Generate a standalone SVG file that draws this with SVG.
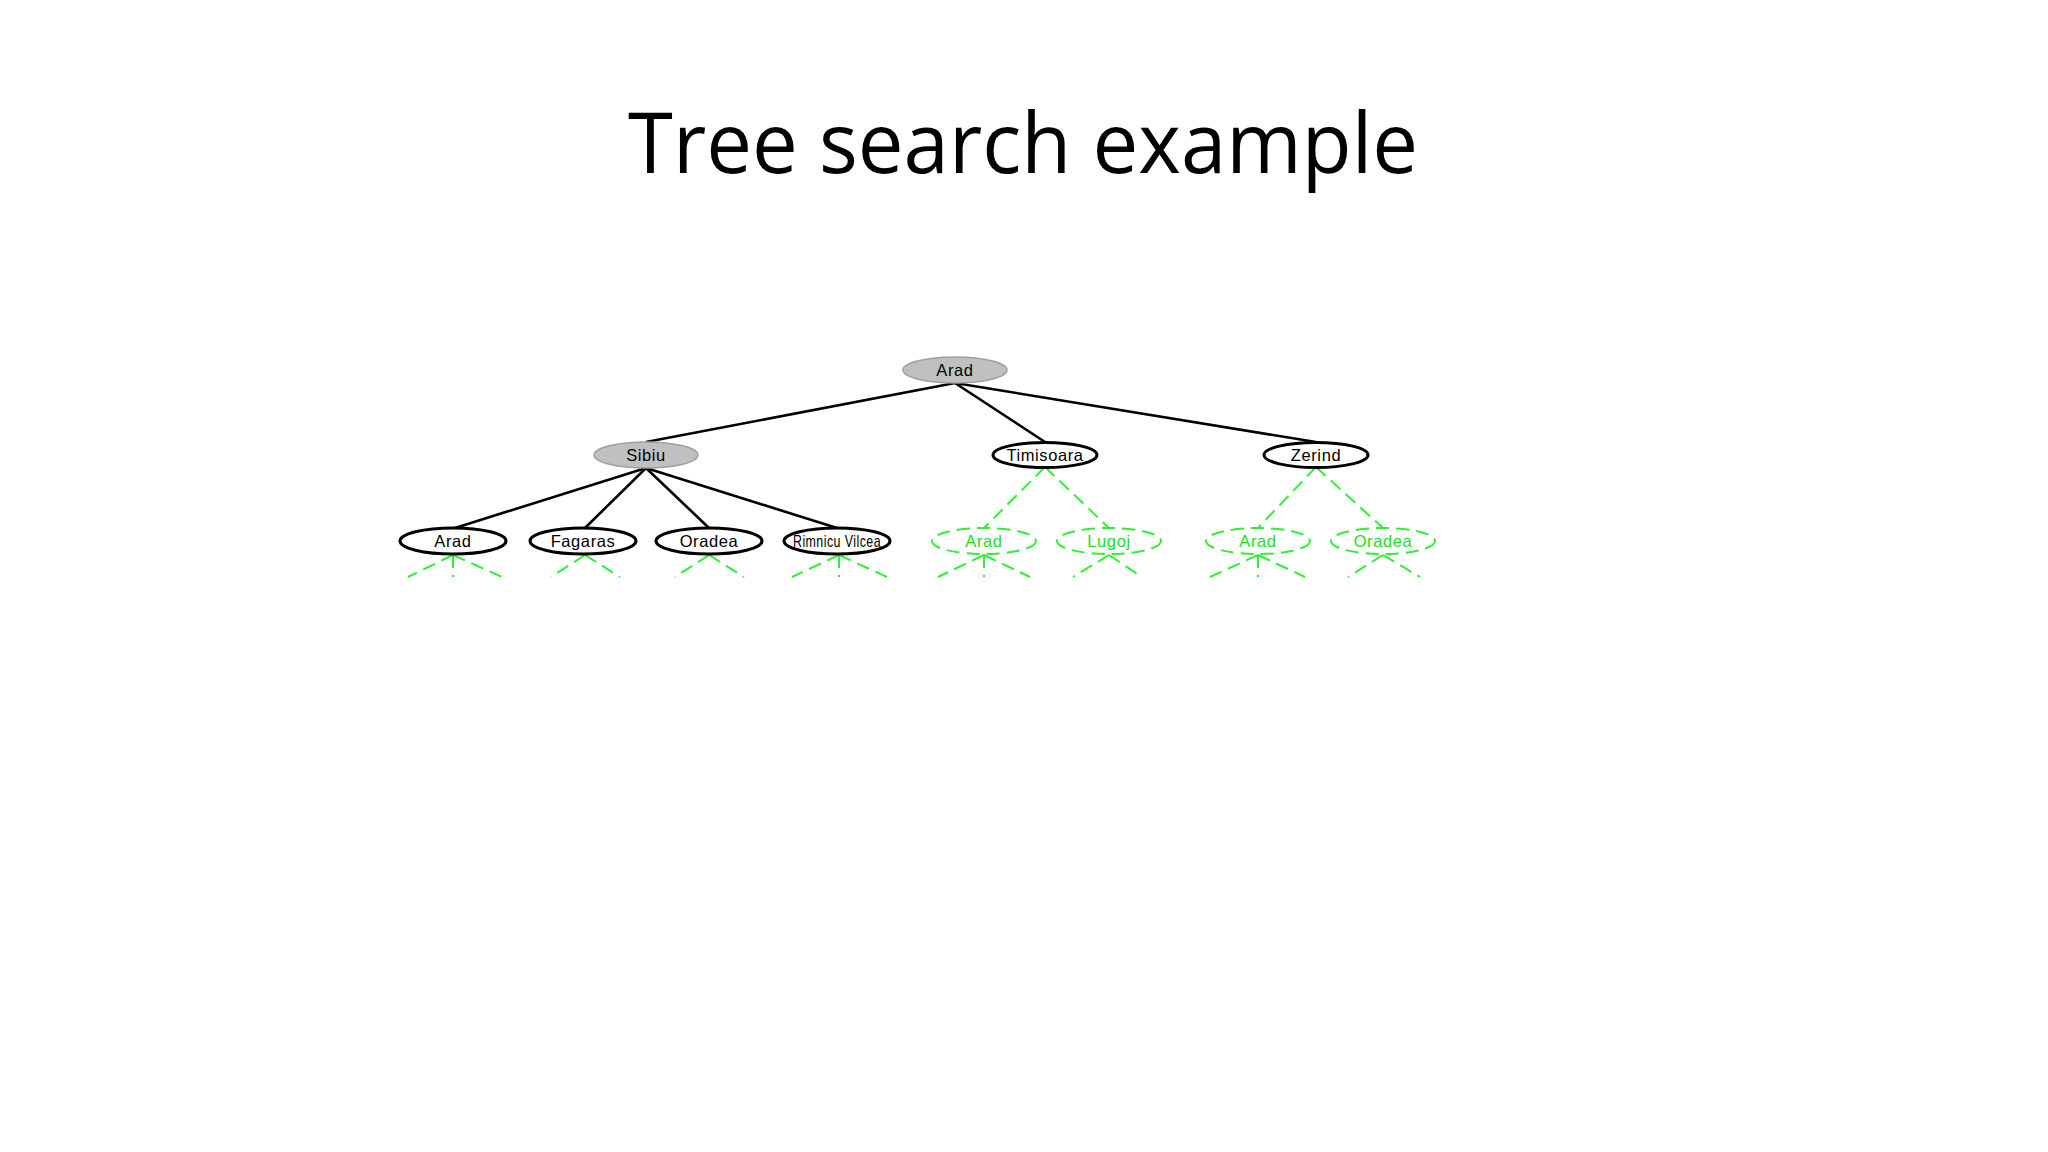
<svg xmlns="http://www.w3.org/2000/svg" width="2048" height="1152" viewBox="0 0 2048 1152">
<style>
.title{font-family:"Open Sans","Noto Sans",sans-serif;font-size:85px;fill:#000}
.lbl{font-family:"Liberation Sans",Arial,sans-serif;font-size:16.5px;letter-spacing:0.6px;text-anchor:middle}
.exp{fill:#c0c0c0;stroke:#a0a0a0;stroke-width:1.5}
.open{fill:#fff;stroke:#000;stroke-width:3}
.fringe{fill:none;stroke:#33ee33;stroke-width:2;stroke-dasharray:13 7}
.edge{stroke:#000;stroke-width:2.6;fill:none}
.gedge{stroke:#33ee33;stroke-width:2;stroke-dasharray:13 7;fill:none}
.blk{fill:#000}
.grn{fill:#22dd22}
</style>
<rect width="2048" height="1152" fill="#fff"/>
<text class="title" x="628" y="173" textLength="790" lengthAdjust="spacingAndGlyphs">Tree search example</text>

<g id="connectors">
  <line class="edge" x1="955" y1="383" x2="646" y2="442"/>
  <line class="edge" x1="955" y1="383" x2="1045" y2="442"/>
  <line class="edge" x1="955" y1="383" x2="1316" y2="442"/>
  <line class="edge" x1="646" y1="468" x2="455" y2="528"/>
  <line class="edge" x1="646" y1="468" x2="585" y2="528"/>
  <line class="edge" x1="646" y1="468" x2="709" y2="528"/>
  <line class="edge" x1="646" y1="468" x2="837" y2="528"/>
  <line class="gedge" x1="1045" y1="467" x2="984" y2="528"/>
  <line class="gedge" x1="1045" y1="467" x2="1109" y2="528"/>
  <line class="gedge" x1="1316" y1="467" x2="1258" y2="528"/>
  <line class="gedge" x1="1316" y1="467" x2="1383" y2="528"/>
  <g class="gedge">
    <path d="M453 555 L408 577 M453 555 L453 577 M453 555 L502 577"/>
    <path d="M585 555 L551 577 M585 555 L620 577"/>
    <path d="M709 555 L675 577 M709 555 L744 577"/>
    <path d="M839 555 L792 577 M839 555 L839 577 M839 555 L887 577"/>
    <path d="M984 555 L938 577 M984 555 L984 577 M984 555 L1030 577"/>
    <path d="M1109 555 L1073 577 M1109 555 L1142 577"/>
    <path d="M1258 555 L1210 577 M1258 555 L1258 577 M1258 555 L1305 577"/>
    <path d="M1383 555 L1348 577 M1383 555 L1420 577"/>
  </g>
</g>

<g id="n-arad-root"><ellipse class="exp" cx="955" cy="370" rx="52" ry="13"/><text class="lbl blk" x="955" y="376">Arad</text></g>
<g id="n-sibiu"><ellipse class="exp" cx="646" cy="455" rx="52" ry="13"/><text class="lbl blk" x="646" y="461">Sibiu</text></g>
<g id="n-timisoara"><ellipse class="open" cx="1045" cy="455" rx="52" ry="12.5"/><text class="lbl blk" x="1045" y="461">Timisoara</text></g>
<g id="n-zerind"><ellipse class="open" cx="1316" cy="455" rx="52" ry="12.5"/><text class="lbl blk" x="1316" y="461">Zerind</text></g>

<g id="n-arad-2"><ellipse class="open" cx="453" cy="541" rx="53" ry="13"/><text class="lbl blk" x="453" y="547">Arad</text></g>
<g id="n-fagaras"><ellipse class="open" cx="583" cy="541" rx="53" ry="13"/><text class="lbl blk" x="583" y="547">Fagaras</text></g>
<g id="n-oradea"><ellipse class="open" cx="709" cy="541" rx="53" ry="13"/><text class="lbl blk" x="709" y="547">Oradea</text></g>
<g id="n-rimnicu"><ellipse class="open" cx="837" cy="541" rx="53" ry="13"/><text class="lbl blk" x="837" y="547" textLength="88" lengthAdjust="spacingAndGlyphs">Rimnicu Vilcea</text></g>

<g id="n-arad-3"><ellipse class="fringe" cx="984" cy="541" rx="52" ry="13"/><text class="lbl grn" x="984" y="547">Arad</text></g>
<g id="n-lugoj"><ellipse class="fringe" cx="1109" cy="541" rx="52" ry="13"/><text class="lbl grn" x="1109" y="547">Lugoj</text></g>
<g id="n-arad-4"><ellipse class="fringe" cx="1258" cy="541" rx="52" ry="13"/><text class="lbl grn" x="1258" y="547">Arad</text></g>
<g id="n-oradea-2"><ellipse class="fringe" cx="1383" cy="541" rx="52" ry="13"/><text class="lbl grn" x="1383" y="547">Oradea</text></g>
</svg>
